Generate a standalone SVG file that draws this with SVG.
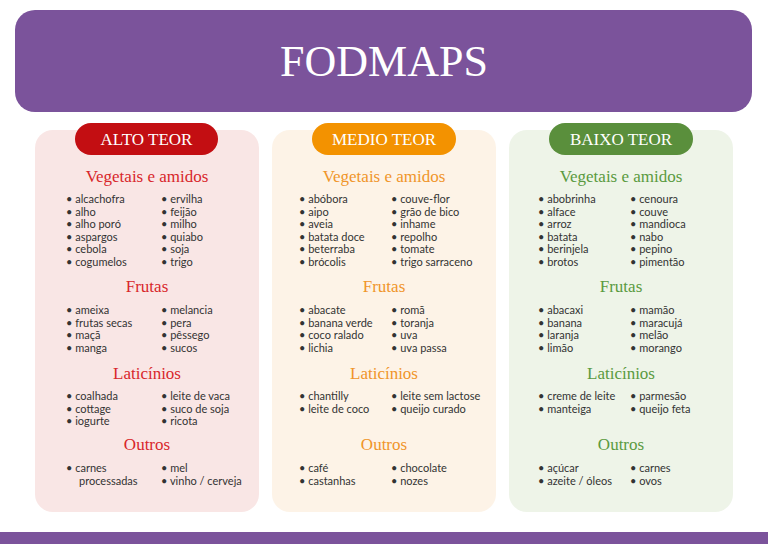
<svg xmlns="http://www.w3.org/2000/svg" width="768" height="544" viewBox="0 0 768 544">
<style>
.t{font-family:"Liberation Serif",serif;text-anchor:middle}
.h{font-size:17px;fill:#fff}
.s{font-size:17px}
.i{font-family:Lato,"Liberation Sans",sans-serif;font-size:11px;fill:#333}
.r{fill:#d8262b}.o{fill:#f0952a}.g{fill:#5a9a40}
</style>
<rect width="768" height="544" fill="#fff"/>
<g id="banner"><rect x="15" y="10" width="737" height="102" rx="20" fill="#7b539b"/><text x="384" y="76" class="t" font-size="44" fill="#fff">FODMAPS</text></g>
<rect x="0" y="532" width="768" height="12" fill="#7b539b"/>
<g id="alto">
<rect x="35" y="130" width="224" height="382" rx="18" fill="#f9e6e5"/>
<rect x="75" y="123" width="143" height="32" rx="16" fill="#c30e12"/><text x="146.5" y="145" class="t h">ALTO TEOR</text>
<text x="147" y="182" class="t s r">Vegetais e amidos</text>
<text class="i"><tspan x="66" y="203">• alcachofra</tspan><tspan x="66" y="215.5">• alho</tspan><tspan x="66" y="228">• alho poró</tspan><tspan x="66" y="240.5">• aspargos</tspan><tspan x="66" y="253">• cebola</tspan><tspan x="66" y="265.5">• cogumelos</tspan></text>
<text class="i"><tspan x="161" y="203">• ervilha</tspan><tspan x="161" y="215.5">• feijão</tspan><tspan x="161" y="228">• milho</tspan><tspan x="161" y="240.5">• quiabo</tspan><tspan x="161" y="253">• soja</tspan><tspan x="161" y="265.5">• trigo</tspan></text>
<text x="147" y="292" class="t s r">Frutas</text>
<text class="i"><tspan x="66" y="314">• ameixa</tspan><tspan x="66" y="326.5">• frutas secas</tspan><tspan x="66" y="339">• maçã</tspan><tspan x="66" y="351.5">• manga</tspan></text>
<text class="i"><tspan x="161" y="314">• melancia</tspan><tspan x="161" y="326.5">• pera</tspan><tspan x="161" y="339">• pêssego</tspan><tspan x="161" y="351.5">• sucos</tspan></text>
<text x="147" y="379" class="t s r">Laticínios</text>
<text class="i"><tspan x="66" y="400">• coalhada</tspan><tspan x="66" y="412.5">• cottage</tspan><tspan x="66" y="425">• iogurte</tspan></text>
<text class="i"><tspan x="161" y="400">• leite de vaca</tspan><tspan x="161" y="412.5">• suco de soja</tspan><tspan x="161" y="425">• ricota</tspan></text>
<text x="147" y="450" class="t s r">Outros</text>
<text class="i"><tspan x="66" y="472">• carnes</tspan><tspan x="79" y="485">processadas</tspan></text>
<text class="i"><tspan x="161" y="472">• mel</tspan><tspan x="161" y="485">• vinho / cerveja</tspan></text>
</g>
<g id="medio">
<rect x="272" y="130" width="224" height="382" rx="18" fill="#fdf3e7"/>
<rect x="312" y="123" width="144" height="32" rx="16" fill="#f39200"/><text x="384" y="145" class="t h">MEDIO TEOR</text>
<text x="384" y="182" class="t s o">Vegetais e amidos</text>
<text class="i"><tspan x="299" y="203">• abóbora</tspan><tspan x="299" y="215.5">• aipo</tspan><tspan x="299" y="228">• aveia</tspan><tspan x="299" y="240.5">• batata doce</tspan><tspan x="299" y="253">• beterraba</tspan><tspan x="299" y="265.5">• brócolis</tspan></text>
<text class="i"><tspan x="391" y="203">• couve-flor</tspan><tspan x="391" y="215.5">• grão de bico</tspan><tspan x="391" y="228">• inhame</tspan><tspan x="391" y="240.5">• repolho</tspan><tspan x="391" y="253">• tomate</tspan><tspan x="391" y="265.5">• trigo sarraceno</tspan></text>
<text x="384" y="292" class="t s o">Frutas</text>
<text class="i"><tspan x="299" y="314">• abacate</tspan><tspan x="299" y="326.5">• banana verde</tspan><tspan x="299" y="339">• coco ralado</tspan><tspan x="299" y="351.5">• lichia</tspan></text>
<text class="i"><tspan x="391" y="314">• romã</tspan><tspan x="391" y="326.5">• toranja</tspan><tspan x="391" y="339">• uva</tspan><tspan x="391" y="351.5">• uva passa</tspan></text>
<text x="384" y="379" class="t s o">Laticínios</text>
<text class="i"><tspan x="299" y="400">• chantilly</tspan><tspan x="299" y="412.5">• leite de coco</tspan></text>
<text class="i"><tspan x="391" y="400">• leite sem lactose</tspan><tspan x="391" y="412.5">• queijo curado</tspan></text>
<text x="384" y="450" class="t s o">Outros</text>
<text class="i"><tspan x="299" y="472">• café</tspan><tspan x="299" y="485">• castanhas</tspan></text>
<text class="i"><tspan x="391" y="472">• chocolate</tspan><tspan x="391" y="485">• nozes</tspan></text>
</g>
<g id="baixo">
<rect x="509" y="130" width="224" height="382" rx="18" fill="#eef4e8"/>
<rect x="549" y="123" width="144" height="32" rx="16" fill="#5a8f3c"/><text x="621" y="145" class="t h">BAIXO TEOR</text>
<text x="621" y="182" class="t s g">Vegetais e amidos</text>
<text class="i"><tspan x="538" y="203">• abobrinha</tspan><tspan x="538" y="215.5">• alface</tspan><tspan x="538" y="228">• arroz</tspan><tspan x="538" y="240.5">• batata</tspan><tspan x="538" y="253">• berinjela</tspan><tspan x="538" y="265.5">• brotos</tspan></text>
<text class="i"><tspan x="630" y="203">• cenoura</tspan><tspan x="630" y="215.5">• couve</tspan><tspan x="630" y="228">• mandioca</tspan><tspan x="630" y="240.5">• nabo</tspan><tspan x="630" y="253">• pepino</tspan><tspan x="630" y="265.5">• pimentão</tspan></text>
<text x="621" y="292" class="t s g">Frutas</text>
<text class="i"><tspan x="538" y="314">• abacaxi</tspan><tspan x="538" y="326.5">• banana</tspan><tspan x="538" y="339">• laranja</tspan><tspan x="538" y="351.5">• limão</tspan></text>
<text class="i"><tspan x="630" y="314">• mamão</tspan><tspan x="630" y="326.5">• maracujá</tspan><tspan x="630" y="339">• melão</tspan><tspan x="630" y="351.5">• morango</tspan></text>
<text x="621" y="379" class="t s g">Laticínios</text>
<text class="i"><tspan x="538" y="400">• creme de leite</tspan><tspan x="538" y="412.5">• manteiga</tspan></text>
<text class="i"><tspan x="630" y="400">• parmesão</tspan><tspan x="630" y="412.5">• queijo feta</tspan></text>
<text x="621" y="450" class="t s g">Outros</text>
<text class="i"><tspan x="538" y="472">• açúcar</tspan><tspan x="538" y="485">• azeite / óleos</tspan></text>
<text class="i"><tspan x="630" y="472">• carnes</tspan><tspan x="630" y="485">• ovos</tspan></text>
</g>
<g id="connectors"/>
</svg>
